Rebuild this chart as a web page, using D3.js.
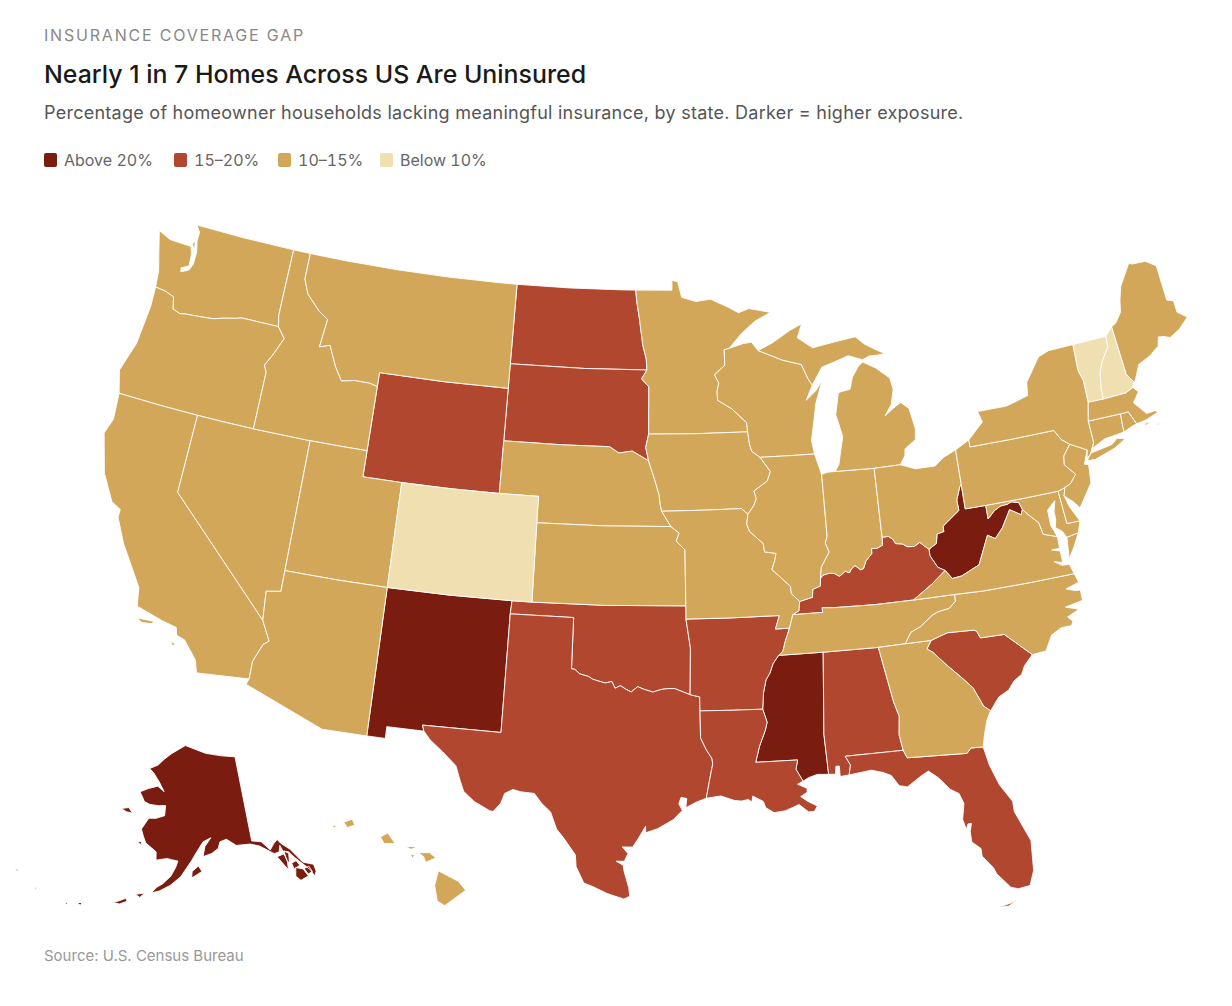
<!DOCTYPE html>
<html>
<head>
<meta charset="utf-8">
<script src="https://cdn.jsdelivr.net/npm/d3@7"></script>
<style>
  html, body { margin: 0; background: #fff; }
  text { font-family: Inter, "Noto Sans", sans-serif; }
</style>
</head>
<body>
<div id="map"></div>
<script>
// 1: DATA - tiers and which states sit in them
const tierLabels = ["Above 20%", "15–20%", "10–15%", "Below 10%"];
const tierColors = ["#7a1c0f", "#b0472e", "#d2a75a", "#f0dfb0"];
const above20 = ["NM", "MS", "WV", "AK"];
const from15to20 = ["ND", "SD", "WY", "OK", "TX", "AR", "LA", "AL", "FL", "SC", "KY"];
const below10 = ["CO", "VT", "NH"];
// everything else is 10-15
const from10to15 = ["WA", "OR", "CA", "NV", "ID", "MT", "UT", "AZ", "NE", "KS", "MN", "IA", "MO", "WI", "IL", "IN", "MI", "OH",
  "TN", "GA", "NC", "VA", "MD", "DE", "PA", "NJ", "NY", "CT", "RI", "MA", "ME", "HI"];

// 2: BORDERS - shared lon/lat lines, used forwards or backwards by both neighbours
const rev = a => [...a].reverse();
const n49 = [[-122.76,49],[-120,49],[-117.03,49],[-116.05,49],[-114,49],[-111,49],[-108,49],[-105,49],[-104.05,49],[-101,49],[-98,49],[-97.23,49],[-95.15,49]];
const waId = [[-117.03,49],[-117.04,47.5],[-117.04,46.42],[-116.92,46]];
const waOr = [[-116.92,46],[-118.98,46],[-119.3,45.93],[-119.9,45.83],[-120.5,45.7],[-121.2,45.65],[-122,45.6],[-122.3,45.55],[-122.75,45.65],[-122.9,46.1],[-123.4,46.22],[-124,46.27]];
const orId = [[-116.92,46],[-116.47,45.6],[-116.85,44.95],[-117.2,44.45],[-117.03,44.2],[-117.03,43],[-117.03,42]];
const idMt = [[-111.05,44.47],[-111.5,44.55],[-112.3,44.55],[-113,44.45],[-113.45,44.95],[-113.95,45.7],[-114.5,45.57],[-114.35,46.65],[-114.9,46.9],[-115.7,47.45],[-116.05,48],[-116.05,49]];
const p42west = [[-124.21,42],[-122,42],[-120,42]];
const p42mid = [[-120,42],[-118.5,42],[-117.03,42]];
const idS = [[-117.03,42],[-114.04,42]];
const idUt = [[-114.04,42],[-112.5,42],[-111.05,42]];
const wyS = [[-111.05,41],[-109.05,41]];
const wyCo = [[-109.05,41],[-106.5,41],[-104.05,41]];
const p45 = [[-111.05,45],[-107.5,45],[-104.05,45]];
const sd46 = [[-104.05,45.94],[-100,45.94],[-96.56,45.94]];
const sdNe = [[-104.05,43],[-101,43],[-98.5,43],[-98,42.77],[-97.3,42.85],[-96.45,42.49]];
const sdIa = [[-96.45,42.49],[-96.6,43],[-96.45,43.5]];
const mnSd = [[-96.45,43.5],[-96.45,45.3],[-96.85,45.6],[-96.56,45.94]];
const redN = [[-96.56,45.94],[-96.6,46.35],[-96.8,46.9],[-97,47.9],[-97.15,48.5],[-97.23,49]];
const mnIa = [[-96.45,43.5],[-94,43.5],[-91.22,43.5]];
const neIa = [[-96.45,42.49],[-96.25,42.05],[-96.1,41.7],[-95.9,41.2],[-95.85,40.85],[-95.77,40.58]];
const neMo = [[-95.77,40.58],[-95.31,40]];
const ksNe = [[-102.05,40],[-98.7,40],[-95.31,40]];
const ksMo = [[-95.31,40],[-94.9,39.75],[-95.05,39.45],[-94.62,39.11]];
const moKs2 = [[-94.62,39.11],[-94.62,37]];
const okKs = [[-102.04,37],[-98.5,37],[-94.62,37]];
const iaMo = [[-95.77,40.58],[-93.5,40.6],[-91.73,40.61],[-91.42,40.38]];
const coNm = [[-109.05,37],[-106,37],[-103,37]];
const coOk = [[-103,37],[-102.04,37]];
const utAz = [[-114.05,37],[-111.5,37],[-109.05,37]];
const azNm = [[-109.05,37],[-109.05,31.33]];
const txNm = [[-103.04,36.5],[-103.06,32],[-106.62,32],[-106.53,31.78]];
const okTx = [[-103.04,36.5],[-100,36.5],[-100,34.56]];
const redS = [[-94.48,33.64],[-94.8,33.75],[-95.2,33.88],[-95.5,33.88],[-95.8,33.85],[-96.2,33.75],[-96.6,33.85],[-96.9,33.95],[-97.2,33.75],[-97.45,33.85],[-97.7,33.98],[-97.95,33.88],[-98.1,34.13],[-98.4,34.07],[-98.7,34.13],[-99,34.2],[-99.2,34.3],[-99.6,34.38],[-99.85,34.55],[-100,34.56]];
const arOk = [[-94.62,36.5],[-94.43,35.4],[-94.48,33.64]];
const moOk = [[-94.62,37],[-94.62,36.5]];
const arMo = [[-94.62,36.5],[-92.5,36.5],[-90.15,36.5],[-90.37,36],[-89.7,36]];
const arTx = [[-94.48,33.64],[-94.04,33.55],[-94.04,33.02]];
const arLa = [[-94.04,33.02],[-92.5,33.01],[-91.17,33]];
const txLa = [[-94.04,33.02],[-94.04,32],[-93.8,31.55],[-93.55,31.2],[-93.52,31],[-93.7,30.3],[-93.84,29.7]];
const stCroix = [[-92.01,46.71],[-92.29,46.66],[-92.29,46.07],[-92.87,45.72],[-92.65,45.4],[-92.76,45.1],[-92.75,44.75],[-92,44.4],[-91.25,43.85],[-91.22,43.5]];
const iaWi = [[-91.22,43.5],[-91.15,43],[-91.05,42.75],[-90.64,42.51]];
const iaIl = [[-90.64,42.51],[-90.15,41.95],[-90.34,41.6],[-91.05,41.25],[-90.95,40.95],[-91.1,40.7],[-91.42,40.38]];
const moIl = [[-91.42,40.38],[-91.5,40],[-91.37,39.73],[-90.73,39.25],[-90.68,38.93],[-90.12,38.85],[-90.2,38.6],[-90.37,38.25],[-89.9,37.88],[-89.52,37.57],[-89.5,37.3],[-89.13,36.98]];
const moKyTn = [[-89.13,36.98],[-89.2,36.63],[-89.5,36.5]];
const boot = [[-89.5,36.5],[-89.7,36]];
const arTn = [[-89.7,36],[-89.95,35.5],[-90.09,35.13],[-90.3,35]];
const arMs = [[-90.3,35],[-90.58,34.7],[-90.75,34.35],[-90.95,34.1],[-91.1,33.6],[-91.17,33]];
const laMs = [[-91.17,33],[-91,32.5],[-91.1,32.2],[-91.4,31.6],[-91.6,31],[-89.73,31],[-89.83,30.65],[-89.55,30.18]];
const ilKy = [[-89.13,36.98],[-88.5,37.1],[-88.45,37.4],[-88.07,37.5],[-88.03,37.8]];
const inKy = [[-88.03,37.8],[-87.9,37.9],[-87.6,37.95],[-87.35,37.93],[-87.1,37.8],[-86.8,37.97],[-86.6,37.9],[-86.5,38.03],[-86.3,38.15],[-86.05,37.97],[-85.9,38],[-85.75,38.27],[-85.42,38.53],[-85.4,38.72],[-85.15,38.7],[-84.85,38.8],[-84.82,39.1]];
const ohKy = [[-84.82,39.1],[-84.5,39.1],[-84.3,38.97],[-84.2,38.8],[-83.85,38.75],[-83.65,38.63],[-83.3,38.6],[-83,38.73],[-82.85,38.6],[-82.6,38.42]];
const ohWv = [[-82.6,38.42],[-82.2,38.6],[-82.1,38.95],[-81.75,39],[-81.75,39.2],[-81.4,39.4],[-80.85,39.7],[-80.87,40.1],[-80.6,40.6],[-80.52,40.64]];
const wabash = [[-87.53,41.7],[-87.53,39.35],[-87.65,39.1],[-87.5,38.75],[-87.95,38.2],[-88.03,37.8]];
const inOh = [[-84.81,41.72],[-84.82,39.1]];
const miIn = [[-86.82,41.76],[-84.81,41.72]];
const miOh = [[-84.81,41.72],[-83.45,41.73]];
const ilWi = [[-87.8,42.49],[-89,42.5],[-90.64,42.51]];
const miWi = [[-90.42,46.57],[-89.1,46.14],[-88.1,45.92],[-87.8,45.35],[-87.6,45.1]];
const ohPa = [[-80.52,41.98],[-80.52,40.64]];
const wvPa = [[-80.52,40.64],[-80.52,39.72],[-79.48,39.72]];
const wvMd = [[-79.48,39.72],[-79.48,39.2],[-79.1,39.47],[-78.75,39.6],[-78.4,39.62],[-78.2,39.68],[-77.83,39.6],[-77.72,39.32]];
const wvVa = [[-77.72,39.32],[-77.83,39.13],[-78.35,39.4],[-78.87,38.77],[-79.3,38.42],[-79.65,38.6],[-80.3,37.55],[-81.22,37.24],[-81.68,37.2],[-81.97,37.54]];
const wvKy = [[-82.6,38.42],[-82.6,38.17],[-82.3,37.7],[-81.97,37.54]];
const kyVa = [[-81.97,37.54],[-82.7,37.1],[-83.68,36.6]];
const kyTn = [[-83.68,36.6],[-85.5,36.6],[-87.5,36.64],[-88.07,36.68],[-88.07,36.5],[-89.5,36.5]];
const tnVa = [[-81.68,36.59],[-83.68,36.6]];
const tnNc = [[-81.68,36.59],[-81.7,36.33],[-82.05,36.1],[-82.6,36.03],[-82.9,35.93],[-83.5,35.57],[-84,35.4],[-84.32,35]];
const tnGa = [[-84.32,35],[-85.6,34.98]];
const tnAl = [[-85.6,34.98],[-88.2,35]];
const tnMs = [[-88.2,35],[-90.3,35]];
const vaNc = [[-81.68,36.59],[-80.3,36.55],[-78,36.55],[-75.87,36.55]];
const potomac = [[-77.72,39.32],[-77.5,39.1],[-77.05,38.7],[-76.95,38.25],[-76.3,38.05]];
const ncGa = [[-84.32,35],[-83.1,35]];
const ncSc = [[-83.1,35],[-82.3,35.2],[-81.05,35.15],[-80.93,35.1],[-80.8,34.82],[-79.67,34.8],[-78.55,33.86]];
const savannah = [[-83.1,35],[-83.35,34.7],[-83.1,34.55],[-82.6,34.05],[-81.95,33.45],[-81.5,33],[-81.15,32.25],[-80.87,32.03]];
const alGa = [[-85.6,34.98],[-85.18,32.87],[-85,32.3],[-85.1,31.6],[-85,31]];
const alFl = [[-85,31],[-87.6,31],[-87.4,30.65],[-87.5,30.28]];
const alMs = [[-88.2,35],[-88.47,31.9],[-88.4,30.37]];
const gaFl = [[-85,31],[-84.86,30.7],[-82.2,30.57],[-82,30.75],[-81.45,30.72]];
const paNy = [[-79.76,42],[-77.5,42],[-75.35,42],[-75.07,41.6],[-74.7,41.36]];
const paNj = [[-74.7,41.36],[-75.13,40.97],[-75.2,40.65],[-74.75,40.2],[-75.1,39.9],[-75.42,39.8]];
const mdPa = [[-75.79,39.72],[-77.5,39.72],[-79.48,39.72]];
const dePa = [[-75.42,39.8],[-75.79,39.72]];
const deNj = [[-75.42,39.8],[-75.55,39.5]];
const mdDe = [[-75.79,39.72],[-75.7,38.46],[-75.05,38.45]];
const nyNj = [[-74.7,41.36],[-73.9,41]];
const nyVt = [[-73.34,45.01],[-73.4,44],[-73.25,43.6],[-73.27,42.75]];
const nyMa = [[-73.27,42.75],[-73.5,42.05]];
const nyCt = [[-73.5,42.05],[-73.49,41.2],[-73.65,41]];
const vtNh = [[-71.5,45.01],[-71.55,44.6],[-72.05,44.1],[-72.3,43.7],[-72.45,43.1],[-72.46,42.73]];
const vtMa = [[-73.27,42.75],[-72.46,42.73]];
const nhMa = [[-72.46,42.73],[-71.25,42.74],[-70.82,42.87]];
const meNh = [[-71.08,45.3],[-70.98,43.4],[-70.7,43.07]];
const ctMa = [[-73.5,42.05],[-71.8,42.02]];
const riMa = [[-71.8,42.02],[-71.38,42.02],[-71.2,41.67],[-71.12,41.5]];
const ctRi = [[-71.8,42.02],[-71.86,41.32]];
const nvCa = [[-120,42],[-120,39],[-114.63,35]];
const azCa = [[-114.63,35],[-114.15,34.27],[-114.4,34.1],[-114.72,33.4],[-114.72,32.72]];
const nvAz = [[-114.05,37],[-114.05,36.2],[-114.74,36.1],[-114.63,35]];
const nvUt = [[-114.04,42],[-114.05,37]];

// 3: STATE SHAPES - each entry is a list of rings
const shapes = {
  WA: [[...n49.slice(0,3), ...waId, ...waOr, [-124.1,46.9],[-124.4,47.6],[-124.73,48.38],[-124,48.17],[-123.1,48.15],[-122.75,48.15],[-122.6,47.85],[-122.55,47.4],[-122.95,47.25],[-122.9,47.1],[-122.5,47.25],[-122.35,47.5],[-122.35,48],[-122.5,48.4],[-122.5,48.75]],
    [[-122.72,48.25],[-122.5,48.05],[-122.6,48.38]]],
  OR: [[...waOr, [-123.95,45.5],[-124.1,44],[-124.55,42.85], ...p42west, ...p42mid, ...rev(orId)]],
  CA: [[...p42west, ...nvCa, ...azCa, [-117.12,32.53],[-117.3,33],[-118,33.65],[-118.4,33.75],[-118.5,34.03],[-119.2,34.15],[-120.5,34.45],[-120.65,35.15],[-121.9,36.6],[-122.5,37.5],[-122.5,37.8],[-123,38],[-123.75,38.95],[-124.35,40.4],[-124.1,41]],
    [[-120.4,34.02],[-119.6,34.05],[-119.6,33.95],[-120.1,33.9]],
    [[-118.6,33.47],[-118.35,33.42],[-118.45,33.32]]],
  NV: [[...p42mid, ...idS, ...nvUt, ...nvAz.slice(1), ...rev(nvCa).slice(1,-1)]],
  ID: [[[-117.03,49],[-116.05,49], ...rev(idMt).slice(1), [-111.05,42], ...rev(idUt).slice(1), ...rev(idS).slice(1), ...rev(orId).slice(1), ...rev(waId).slice(1,-1)]],
  MT: [[...n49.slice(3,9), [-104.05,47],[-104.05,45.94],[-104.05,45], ...rev(p45).slice(1), ...idMt]],
  WY: [[...p45, [-104.05,43],[-104.05,41], ...rev(wyCo).slice(1), ...rev(wyS).slice(1), [-111.05,42],[-111.05,44.47]]],
  UT: [[...idUt, [-111.05,41], ...wyS.slice(1), [-109.05,39], [-109.05,37], ...rev(utAz).slice(1), ...rev(nvUt).slice(1,-1)]],
  AZ: [[...utAz, ...azNm.slice(1), [-111.07,31.33],[-114.81,32.5], ...rev(azCa), ...rev(nvAz).slice(1,-1)]],
  CO: [[...wyCo, [-102.05,41],[-102.05,40],[-102.04,37], ...rev(coOk).slice(1), ...rev(coNm).slice(1), [-109.05,39]]],
  NM: [[...coNm, ...txNm, [-108.21,31.78],[-108.21,31.33], ...rev(azNm).slice(0,-1)]],
  ND: [[...n49.slice(8,12), ...rev(redN).slice(1), ...rev(sd46).slice(1), [-104.05,47]]],
  SD: [[...sd46, ...rev(mnSd).slice(1), ...rev(sdIa).slice(1), ...rev(sdNe).slice(1), [-104.05,45]]],
  NE: [[...sdNe, ...neIa.slice(1), ...neMo.slice(1), ...rev(ksNe).slice(1), [-102.05,41],[-104.05,41]]],
  KS: [[...ksNe, ...ksMo.slice(1), ...moKs2.slice(1), ...rev(okKs).slice(1)]],
  OK: [[[-103,37], ...okKs, ...moOk.slice(1), ...arOk.slice(1), ...redS.slice(1), ...rev(okTx).slice(1)]],
  TX: [[...okTx, ...rev(redS).slice(1), ...arTx.slice(1), ...txLa.slice(1), [-94.3,29.55],[-94.75,29.35],[-94.7,29.7],[-94.95,29.75],[-95.05,29.5],[-94.9,29.25],[-95.3,28.9],[-96,28.55],[-96.5,28.4],[-96.5,28.65],[-96.8,28.2],[-97.05,27.85],[-97.5,27.85],[-97.25,27.6],[-97.4,27.3],[-97.75,27.3],[-97.45,27.15],[-97.4,26.9],[-97.2,26.3],[-97.15,25.96],[-97.4,25.85],[-98.1,26.05],[-98.7,26.3],[-99.1,26.43],[-99.45,27.05],[-99.5,27.5],[-100.05,28.15],[-100.35,28.45],[-100.65,29.1],[-101.05,29.4],[-101.4,29.77],[-102,29.8],[-102.35,29.87],[-102.7,29.7],[-102.85,29.3],[-103.15,28.98],[-103.3,29],[-104,29.3],[-104.5,29.65],[-104.7,30.05],[-104.95,30.6],[-105.6,31.08],[-106.2,31.47], ...rev(txNm).slice(0,-1)]],
  MN: [[...n49.slice(11), [-95.15,49.38],[-94.82,49.32],[-94.6,48.72],[-93.8,48.55],[-92.95,48.62],[-92,48.3],[-91.4,48.06],[-90.8,48.2],[-89.6,48],[-90.5,47.7],[-91.3,47.25], ...stCroix, ...rev(mnIa).slice(1), ...mnSd.slice(1), ...redN.slice(1,-1)]],
  IA: [[...mnIa, ...iaWi.slice(1), ...iaIl.slice(1), ...rev(iaMo).slice(1), ...rev(neIa).slice(1), ...sdIa.slice(1,-1)]],
  MO: [[...iaMo, ...moIl.slice(1), ...moKyTn.slice(1), ...boot.slice(1), ...rev(arMo).slice(1), ...rev(moOk).slice(1), ...rev(moKs2).slice(1), ...rev(ksMo).slice(1), ...rev(neMo).slice(1,-1)]],
  AR: [[...arMo, ...arTn.slice(1), ...arMs.slice(1), ...rev(arLa).slice(1), ...rev(arTx).slice(1), ...rev(arOk).slice(1,-1)]],
  LA: [[...arLa, ...laMs.slice(1), [-89.8,30.08],[-89.4,29.9],[-89.4,29.75],[-89.7,29.6],[-89.4,29.4],[-89,29.2],[-89.15,29],[-89.4,29],[-89.8,29.3],[-90.1,29.2],[-90.4,29.1],[-90.9,29.05],[-91.25,29.25],[-91.35,29.5],[-91.8,29.72],[-91.85,29.5],[-92,29.6],[-92.3,29.55],[-92.6,29.58],[-93.2,29.77], ...rev(txLa).slice(0,-1)]],
  WI: [[[-92.01,46.71],[-91.2,46.87],[-90.75,46.9], ...miWi, [-88,44.55],[-87.4,44.9],[-87.05,45.25],[-87.5,44.4],[-87.7,43.7],[-87.9,43], ...ilWi, ...rev(iaWi).slice(1), ...rev(stCroix).slice(1,-1)]],
  IL: [[...ilWi, ...iaIl.slice(1), ...moIl.slice(1), ...ilKy.slice(1), ...rev(wabash).slice(1), [-87.55,41.75]]],
  IN: [[...wabash, ...inKy.slice(1), ...rev(inOh).slice(1), ...rev(miIn).slice(1), [-87.2,41.76]]],
  OH: [[...miOh, [-82.7,41.5],[-81.7,41.5],[-81.2,41.77], ...ohPa, ...rev(ohWv).slice(1), ...rev(ohKy).slice(1), ...rev(inOh).slice(1,-1)]],
  MI: [[...miIn, ...miOh.slice(1), [-83.15,42.05],[-83.1,42.3],[-82.5,42.6],[-82.42,43],[-82.6,43.8],[-83,44.07],[-83.4,43.9],[-83.9,43.65],[-83.5,44.05],[-83.3,44.6],[-83.4,45.05],[-84.1,45.5],[-84.75,45.78],[-85,45.65],[-85.4,45.25],[-85.6,44.8],[-86.1,44.75],[-86.25,44.7],[-86.5,43.9],[-86.25,43.05],[-86.6,42]],
    [...miWi, [-87,45.75],[-86.3,45.9],[-85.5,46.08],[-84.75,45.87],[-84.35,45.98],[-83.9,45.97],[-83.5,46],[-84.1,46.25],[-84.55,46.46],[-85,46.77],[-86.1,46.67],[-87.4,46.52],[-88.2,46.95],[-87.9,47.47],[-88.6,47.25],[-89.6,46.83]]],
  KY: [[...ilKy, ...inKy.slice(1), ...ohKy.slice(1), ...wvKy.slice(1), ...kyVa.slice(1), ...kyTn.slice(1), ...rev(moKyTn).slice(1,-1)]],
  TN: [[[-89.7,36], [-89.5,36.5], ...rev(kyTn).slice(1), ...rev(tnVa).slice(1), ...tnNc.slice(1), ...tnGa.slice(1), ...tnAl.slice(1), ...tnMs.slice(1), ...rev(arTn).slice(1,-1)]],
  MS: [[...rev(tnMs), ...alMs.slice(1), [-88.9,30.4],[-89.3,30.3], ...rev(laMs), ...rev(arMs).slice(1,-1)]],
  AL: [[...rev(tnAl), ...alGa.slice(1), ...alFl.slice(1), [-87.9,30.25],[-87.9,30.65],[-88.05,30.65],[-88.1,30.35], ...rev(alMs).slice(0,-1)]],
  GA: [[...rev(tnGa), ...ncGa.slice(1), ...savannah.slice(1), [-81.1,31.7],[-81.3,31.2], ...rev(gaFl), ...rev(alGa).slice(1,-1)]],
  FL: [[...gaFl, [-81.3,30],[-81,29.2],[-80.55,28.5],[-80.55,28.1],[-80.05,26.9],[-80.15,25.75],[-80.4,25.2],[-80.9,25.15],[-81.2,25.25],[-81.7,25.85],[-81.8,26.1],[-82.2,26.6],[-82.2,26.9],[-82.55,27.2],[-82.55,27.6],[-82.45,27.9],[-82.6,27.9],[-82.7,27.7],[-82.8,28.1],[-82.65,28.7],[-82.8,29.1],[-83.15,29.3],[-83.6,29.8],[-84,30.1],[-84.35,29.95],[-85,29.6],[-85.35,29.68],[-85.65,30.1],[-86,30.25],[-86.5,30.38], ...rev(alFl).slice(0,-1)],
    [[-81.85,24.55],[-81.3,24.65],[-81,24.75],[-81.4,24.55]]],
  SC: [[...ncSc, [-79,33.5],[-79.2,33.2],[-79.6,33],[-79.9,32.7],[-80.4,32.5],[-80.65,32.25], ...rev(savannah).slice(0,-1)]],
  NC: [[...vaNc, [-75.75,36.2],[-76.4,36.05],[-76,35.92],[-75.75,35.9],[-75.75,35.5],[-76.6,35.38],[-76,35.2],[-76.6,35],[-76.4,34.8],[-76.5,34.65],[-77,34.65],[-77.5,34.45],[-77.9,33.9], ...rev(ncSc), ...rev(ncGa).slice(1), ...rev(tnNc).slice(1,-1)]],
  VA: [[...rev(tnVa), ...vaNc.slice(1), [-76,36.93],[-76.35,36.95],[-76.7,37.15],[-76.3,37.05],[-76.3,37.5],[-76.7,37.6],[-76.3,37.6],[-76.3,37.95], ...rev(potomac), ...wvVa.slice(1), ...kyVa.slice(1,-1)],
    [[-75.25,38.03],[-75.85,37.95],[-75.95,37.15],[-75.6,37.55]]],
  WV: [[...ohWv, ...wvPa.slice(1), ...wvMd.slice(1), ...wvVa.slice(1), ...rev(wvKy).slice(1,-1)]],
  MD: [[...mdPa, ...wvMd.slice(1), ...potomac.slice(1), [-76.4,38.3],[-76.5,38.5],[-76.5,39.1],[-76.05,39.4],[-76.2,39],[-76.2,38.7],[-76.3,38.4],[-76,38.2],[-75.85,37.95],[-75.25,38.03], ...rev(mdDe).slice(0,-1)]],
  DE: [[...rev(dePa), ...deNj.slice(1), [-75.4,39.05], ...rev(mdDe).slice(0,-1)]],
  PA: [[[-80.52,41.98],[-79.76,42.27],[-79.76,42], ...paNy.slice(1), ...paNj.slice(1), ...dePa.slice(1), ...mdPa.slice(1), [-80.52,39.72]]],
  NJ: [[...nyNj, [-74.2,40.5],[-74,40.45],[-74.1,39.75],[-74.9,38.93],[-75.15,39.2],[-75.55,39.5], ...rev(paNj).slice(0,-1)]],
  NY: [[[-79.76,42.27],[-78.9,42.85],[-79.05,43.27],[-77.5,43.27],[-76.3,43.5],[-76.2,44],[-75.3,44.85],[-74.7,45], ...nyVt, ...nyMa.slice(1), ...nyCt.slice(1),[-73.8,40.8],[-74,40.7], ...rev(nyNj), ...rev(paNy).slice(1)],
    [[-74.03,40.6],[-73.75,40.85],[-72.6,40.98],[-72.3,41.15],[-71.87,41.07],[-72.5,40.82],[-73.6,40.58]]],
  VT: [[[-73.34,45.01], ...vtNh, ...rev(vtMa).slice(1), ...rev(nyVt).slice(1,-1)]],
  NH: [[[-71.5,45.01], ...meNh, ...rev(nhMa), ...rev(vtNh).slice(1,-1)]],
  ME: [[[-71.08,45.3],[-70.8,45.4],[-70.4,45.75],[-70.25,46.2],[-70,46.7],[-69.23,47.46],[-69.05,47.4],[-68.3,47.36],[-67.79,47.07],[-67.79,45.7],[-67.45,45.6],[-67.45,45.15],[-67,44.85],[-67.6,44.5],[-68.2,44.3],[-68.5,44.4],[-68.8,44.45],[-68.95,44.1],[-69.1,44.05],[-69.5,43.85],[-70.2,43.65],[-70.6,43.1],[-70.7,43.07],[-70.98,43.4]]],
  MA: [[...rev(nyMa), ...vtMa.slice(1), ...nhMa.slice(1), [-70.6,42.65],[-71,42.3],[-70.65,41.95],[-70.5,41.78],[-70,41.8],[-70.2,42.08],[-69.95,41.7],[-70.6,41.55], ...rev(riMa), ...rev(ctMa).slice(1,-1)],
    [[-70.8,41.4],[-70.5,41.47],[-70.6,41.35]],
    [[-70.2,41.3],[-69.97,41.3],[-70.05,41.24]]],
  RI: [[...riMa, [-71.4,41.45],[-71.86,41.32]]],
  CT: [[...ctMa, ...ctRi.slice(1), [-72.9,41.25], ...rev(nyCt).slice(0,-1)]],
  HI: [[[-155.9,20.25],[-155.1,19.85],[-154.8,19.5],[-155.65,18.92],[-155.95,19.1],[-156.05,19.7]],
    [[-156.7,20.95],[-156.25,20.95],[-156,20.75],[-156.4,20.58],[-156.5,20.8]],
    [[-157.25,21.2],[-156.75,21.17],[-157,21.08]],
    [[-157.05,20.9],[-156.85,20.85],[-156.95,20.75]],
    [[-158.25,21.55],[-157.95,21.7],[-157.65,21.3],[-158.1,21.3]],
    [[-159.75,22.1],[-159.4,22.23],[-159.3,22],[-159.6,21.9]],
    [[-160.25,21.9],[-160.1,22],[-160.05,21.9]]],
  AK: [[[-141,69.65],[-141,65],[-141,60.3],[-139,60],[-137.5,58.9],[-136.5,59.45],[-135.5,59.8],[-135,59.3],[-133.5,58.4],[-132.2,57],[-131.8,56.6],[-130,56],[-130,55.2],[-130.6,54.75],[-130.9,55.5],[-131.9,56.4],[-133,57.3],[-134,58.2],[-135,58.4],[-135.3,59.1],[-135.8,58.45],[-136.9,58.4],[-138.2,59],[-139.6,59.6],[-141.5,60],[-144.5,60.1],[-146.5,60.9],[-148,60.7],[-148.5,60],[-150,59.5],[-151.9,59.2],[-151.4,60.3],[-150,61.2],[-151.8,60.8],[-153.5,59.5],[-154.3,58.8],[-156.5,57],[-158.5,56],[-160.5,55.3],[-162,55],[-161,55.7],[-160,56.1],[-158.5,57],[-157.6,58],[-157.2,58.7],[-158.5,58.8],[-159.5,58.9],[-161.8,58.6],[-162,59.5],[-164.5,60.3],[-165.3,61],[-166,61.7],[-164.7,63],[-163,63.1],[-161,63.5],[-161,64.6],[-162.7,64.5],[-165,64.5],[-166.5,64.7],[-168.1,65.65],[-166,66.2],[-163.7,66.6],[-161.8,66.1],[-163.5,67.1],[-165.5,68],[-166.8,68.35],[-164.5,68.9],[-163,69.6],[-161,70.3],[-156.6,71.35],[-153,70.9],[-150,70.45],[-145,70]],
    [[-154.3,56.9],[-153.4,57.2],[-152.2,57.6],[-152.9,58.2],[-154.2,57.6]],
    [[-166.3,60.2],[-165.2,60],[-165.6,60.4]],
    [[-171.7,63.4],[-170,63.7],[-168.8,63.2],[-170.3,63.2]],
    [[-164.9,54.6],[-163.2,54.9],[-164,54.35]],
    [[-168.9,53.3],[-167.9,53.5],[-166.5,54],[-166.2,53.7],[-167.5,53.25]],
    [[-174.9,52.2],[-174,52.4],[-174.2,52.05]],
    [[-176.9,51.8],[-176.4,51.9],[-176.5,51.65]],
    [[177.2,52.1],[177.6,52.1],[177.4,51.9]],
    [[172.5,52.95],[173.4,52.95],[173,52.8]],
    [[-133.5,56.3],[-132.2,55.9],[-131.7,55],[-133.3,54.8],[-134,55.4]],
    [[-136.5,58],[-135,58.1],[-134.7,57.3],[-135,56.3],[-135.6,57]],
    [[-134.8,58.4],[-134,58],[-134.4,57],[-134.8,57.3]],
    [[-134,56.9],[-133,57],[-132.6,56.4],[-133.9,56.2]],
    [[-132,55.9],[-131,56],[-130.7,55.3],[-131.6,55.2]]]
};

// 4: PAGE SETUP
const width = 1232, height = 1006;
const svg = d3.select("#map").append("svg")
  .attr("width", width)
  .attr("height", height)
  .style("display", "block");

const colorOf = new Map();
[above20, from15to20, from10to15, below10].forEach((list, i) => list.forEach(s => colorOf.set(s, tierColors[i])));

// d3 wants exterior rings clockwise, so flip any ring that came out as "the rest of the globe"
function toFeature(code) {
  const polygons = shapes[code].map(ring => {
    const closed = [...ring, ring[0]];
    const poly = { type: "Polygon", coordinates: [closed] };
    return d3.geoArea(poly) > 2 * Math.PI ? [[...closed].reverse()] : [closed];
  });
  return { type: "Feature", id: code, geometry: { type: "MultiPolygon", coordinates: polygons } };
}

const projection = d3.geoAlbersUsa().scale(1503).translate([645, 561]);
const path = d3.geoPath(projection);

// 5: MAP
svg.append("g").selectAll("path")
  .data([...colorOf.keys()].map(toFeature))
  .enter()
  .append("path")
  .attr("d", path)
  .attr("fill", d => colorOf.get(d.id))
  .attr("stroke", "#fff")
  .attr("stroke-width", 0.9)
  .attr("stroke-linejoin", "round");

// 6: TITLES
svg.append("text").attr("x", 44).attr("y", 41)
  .attr("font-size", 16).attr("letter-spacing", 1.8).attr("fill", "#888")
  .text("INSURANCE COVERAGE GAP");
svg.append("text").attr("x", 44).attr("y", 83)
  .attr("font-size", 24.9).attr("font-weight", 500).attr("fill", "#1a1a1a")
  .text("Nearly 1 in 7 Homes Across US Are Uninsured");
svg.append("text").attr("x", 44).attr("y", 119)
  .attr("font-size", 18).attr("letter-spacing", 0.26).attr("fill", "#555")
  .text("Percentage of homeowner households lacking meaningful insurance, by state. Darker = higher exposure.");

// 7: LEGEND
const legendX = [44, 174, 278, 380];
const legend = svg.append("g").selectAll("g")
  .data(tierLabels)
  .enter()
  .append("g")
  .attr("transform", (d, i) => `translate(${legendX[i]},153)`);
legend.append("rect")
  .attr("width", 13).attr("height", 14).attr("rx", 2)
  .attr("fill", (d, i) => tierColors[i]);
legend.append("text")
  .attr("x", 20).attr("y", 13)
  .attr("font-size", 16).attr("fill", "#666")
  .style("font-variant-numeric", "tabular-nums")
  .text(d => d);

// 8: SOURCE
svg.append("text").attr("x", 44).attr("y", 961)
  .attr("font-size", 15).attr("fill", "#999")
  .text("Source: U.S. Census Bureau");
</script>
</body>
</html>
